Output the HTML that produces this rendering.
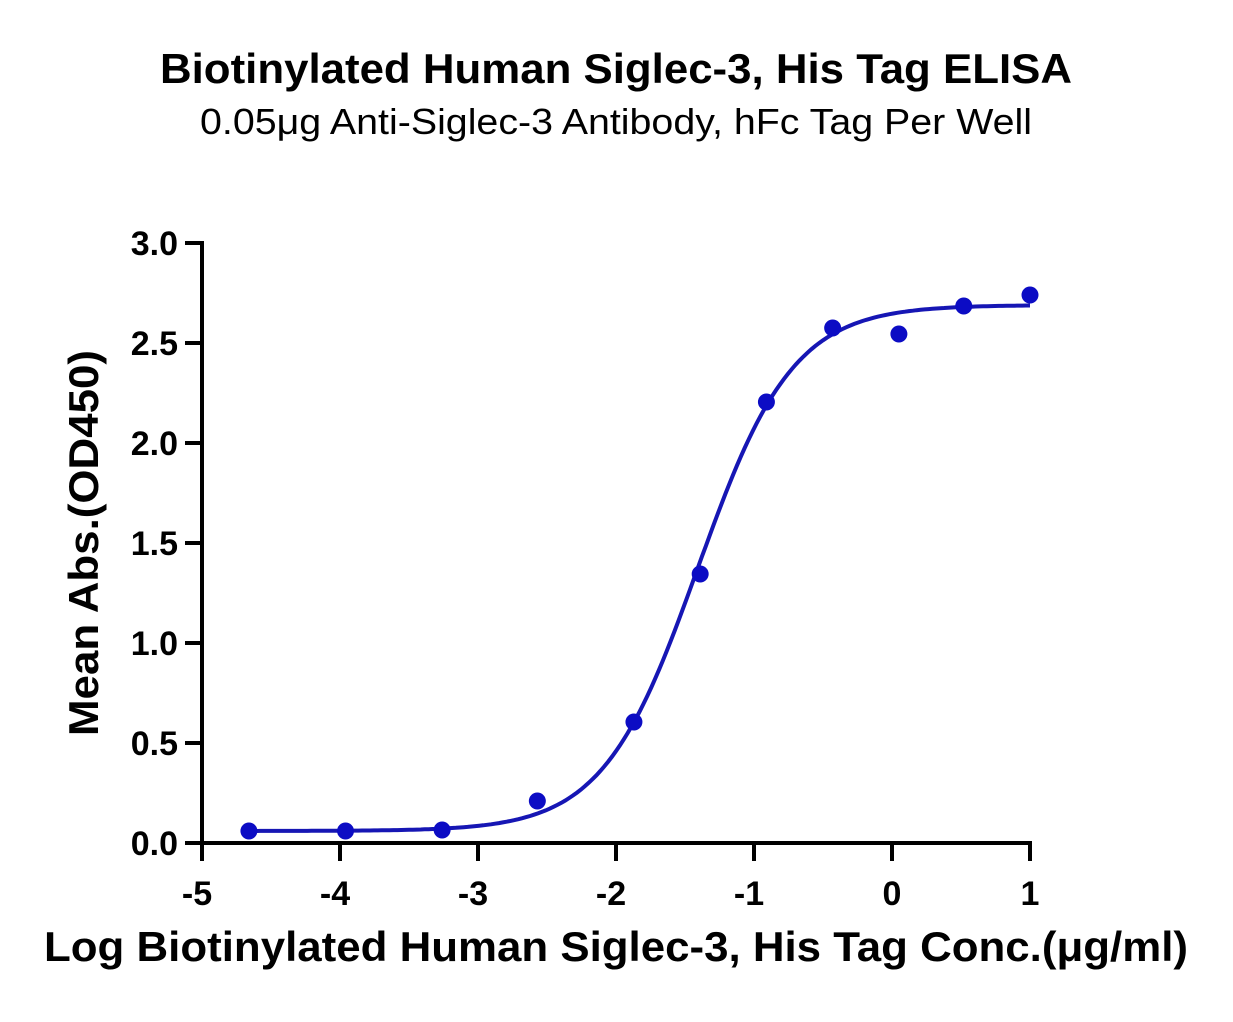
<!DOCTYPE html>
<html><head><meta charset="utf-8"><style>
body{margin:0;background:#fff;}
svg text{font-family:"Liberation Sans",Arial,sans-serif;}
</style></head><body>
<svg width="1233" height="1017" viewBox="0 0 1233 1017" xmlns="http://www.w3.org/2000/svg">
<text x="616" y="83" text-anchor="middle" font-size="42" font-weight="bold" textLength="912" lengthAdjust="spacingAndGlyphs">Biotinylated Human Siglec-3, His Tag ELISA</text>
<text x="616" y="134" text-anchor="middle" font-size="36" textLength="832" lengthAdjust="spacingAndGlyphs">0.05μg Anti-Siglec-3 Antibody, hFc Tag Per Well</text>
<g id="axes"></g>
<g id="marks"></g>
<text transform="translate(98,543) rotate(-90)" text-anchor="middle" font-size="42" font-weight="bold" textLength="386" lengthAdjust="spacingAndGlyphs">Mean Abs.(OD450)</text>
<text x="616" y="961" text-anchor="middle" font-size="42" font-weight="bold" textLength="1144" lengthAdjust="spacingAndGlyphs">Log Biotinylated Human Siglec-3, His Tag Conc.(μg/ml)</text>
</svg>
<script>
const xValues=[-4.66,-3.96,-3.26,-2.57,-1.87,-1.39,-0.91,-0.43,0.05,0.52,1.0];
const yValues=[0.06,0.06,0.065,0.21,0.605,1.345,2.205,2.575,2.545,2.685,2.74];
const xTicks=[-5,-4,-3,-2,-1,0,1];
const yTicks=[0,0.5,1.0,1.5,2.0,2.5,3.0];
const yTickLabels=["0.0","0.5","1.0","1.5","2.0","2.5","3.0"];
const fitBottom=0.06, fitTop=2.69, fitEC50=-1.407, fitHill=1.26;
const NS="http://www.w3.org/2000/svg";
const X=v=>202+(v+5)*138;
const Y=v=>843-v*200;
const axes=document.getElementById('axes'), marks=document.getElementById('marks');
function mk(tag,attrs,parent){const e=document.createElementNS(NS,tag);for(const k in attrs)e.setAttribute(k,attrs[k]);parent.appendChild(e);return e;}
let e=mk('line',{x1:202,y1:Y(3)-2,x2:202,y2:845,stroke:'#000','stroke-width':4},axes);


e=mk('line',{x1:200,y1:843,x2:1032,y2:843,stroke:'#000','stroke-width':4},axes);


xTicks.forEach(t=>{
 let l=mk('line',{x1:X(t),y1:843,x2:X(t),y2:861,stroke:'#000','stroke-width':4},axes);
 
 
 let tx=mk('text',{x:X(t)-(t<0?5:0),y:905,'text-anchor':'middle','font-size':34,'font-weight':'bold'},axes);
 tx.textContent=String(t);
 
 
});
yTicks.forEach((t,i)=>{
 let l=mk('line',{x1:185,y1:Y(t),x2:202,y2:Y(t),stroke:'#000','stroke-width':4},axes);
 
 
 let tx=mk('text',{x:178,y:Y(t)+12,'text-anchor':'end','font-size':34,'font-weight':'bold'},axes);
 tx.textContent=yTickLabels[i];
 
 
});
let d='';
const x0=xValues[0], x1=xValues[xValues.length-1];
for(let i=0;i<=200;i++){const x=x0+(x1-x0)*i/200;const y=fitBottom+(fitTop-fitBottom)/(1+Math.pow(10,(fitEC50-x)*fitHill));d+=(i?'L':'M')+X(x).toFixed(1)+','+Y(y).toFixed(1);}
e=mk('path',{d:d,fill:'none',stroke:'#1616b4','stroke-width':4},marks);


xValues.forEach((x,i)=>{
 let c=mk('circle',{cx:X(x),cy:Y(yValues[i]),r:8.5,fill:'#0c0cc4'},marks);
 
 
});
</script>
</body></html>
